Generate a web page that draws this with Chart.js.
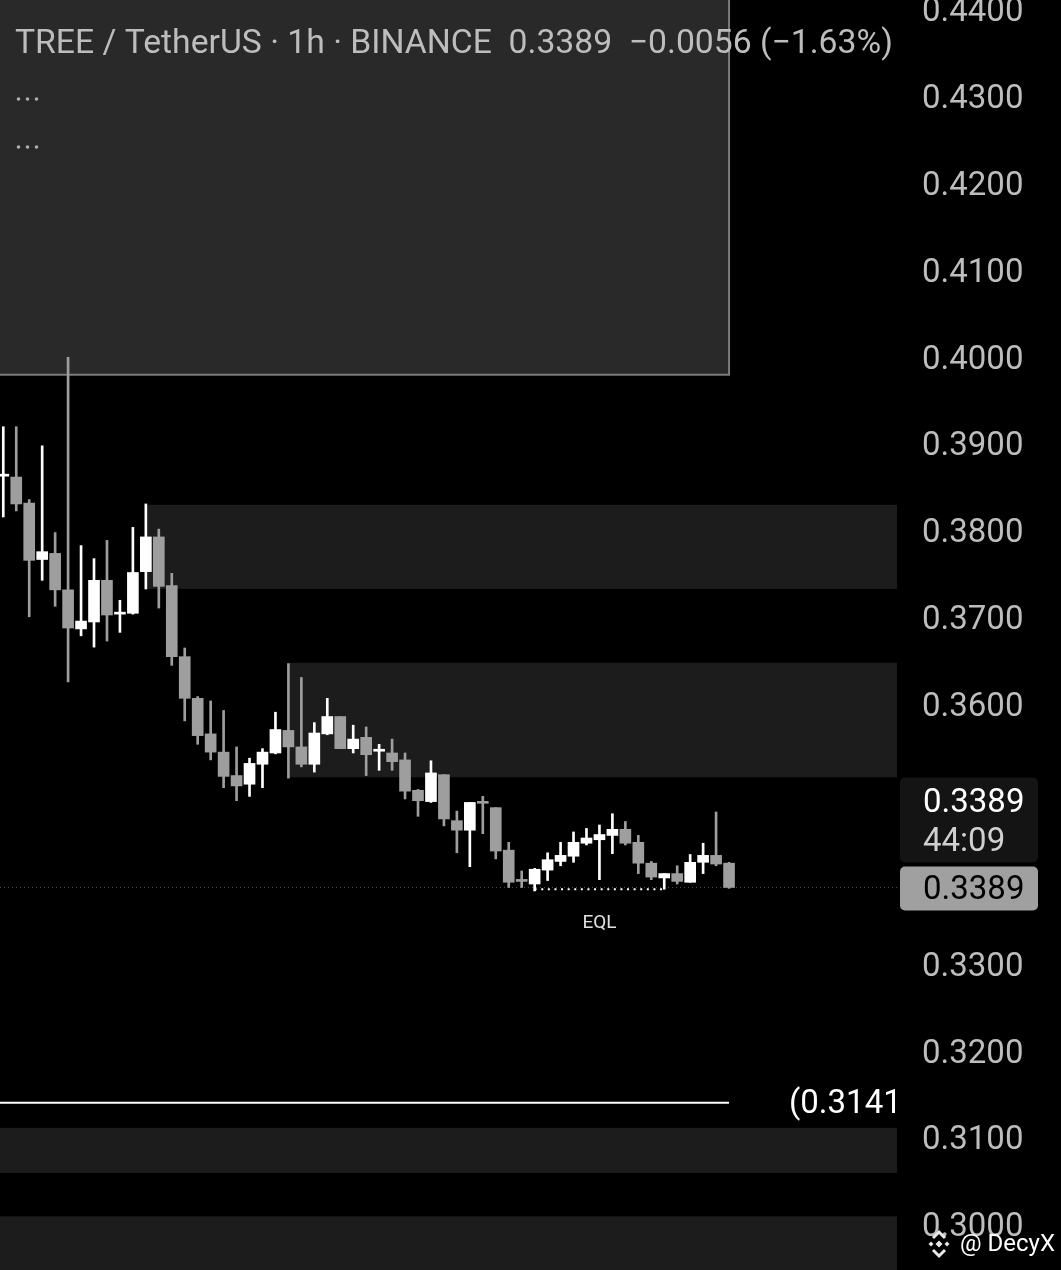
<!DOCTYPE html>
<html lang="en">
<head>
<meta charset="UTF-8">
<title>TREE / TetherUS 1h</title>
<script src="https://cdn.jsdelivr.net/npm/chart.js@4.4.1/dist/chart.umd.min.js"></script>
<style>
  html, body { margin: 0; padding: 0; background: #000; }
  #wrap { width: 1061px; height: 1270px; position: relative; }
</style>
</head>
<body>
<div id="wrap"><canvas id="chart"></canvas></div>
<script>
// candles, 1h
const opens  = [0.3863,0.3862,0.3832,0.3767,0.3774,0.3732,0.3687,0.3695,0.3743,0.3704,
                0.3705,0.3753,0.3793,0.3737,0.3655,0.3607,0.3566,0.3545,0.3518,0.3508,
                0.3531,0.3544,0.3570,0.3551,0.3531,0.3566,0.3586,0.3549,0.3562,0.3546,
                0.3544,0.3536,0.3501,0.3488,0.3519,0.3466,0.3455,0.3487,0.3481,0.3432,
                0.3397,0.3393,0.3409,0.3419,0.3425,0.3440,0.3444,0.3449,0.3456,0.3441,
                0.3417,0.3400,0.3405,0.3395,0.3418,0.3426,0.3417];
const highs  = [0.3920,0.3920,0.3836,0.3898,0.3798,0.4000,0.3783,0.3768,0.3789,0.3720,
                0.3804,0.3831,0.3802,0.3751,0.3665,0.3609,0.3604,0.3593,0.3551,0.3538,
                0.3549,0.3591,0.3647,0.3631,0.3579,0.3607,0.3586,0.3576,0.3574,0.3554,
                0.3560,0.3544,0.3502,0.3535,0.3519,0.3477,0.3487,0.3494,0.3481,0.3441,
                0.3408,0.3411,0.3429,0.3441,0.3453,0.3457,0.3461,0.3474,0.3465,0.3449,
                0.3419,0.3405,0.3414,0.3427,0.3440,0.3476,0.3418];
const lows   = [0.3816,0.3823,0.3701,0.3743,0.3713,0.3626,0.3679,0.3666,0.3673,0.3683,
                0.3704,0.3733,0.3711,0.3645,0.3581,0.3554,0.3536,0.3504,0.3489,0.3494,
                0.3504,0.3543,0.3515,0.3528,0.3522,0.3565,0.3549,0.3544,0.3518,0.3524,
                0.3524,0.3491,0.3471,0.3487,0.3460,0.3429,0.3413,0.3451,0.3422,0.3389,
                0.3389,0.3385,0.3397,0.3414,0.3418,0.3438,0.3398,0.3428,0.3438,0.3405,
                0.3398,0.3387,0.3393,0.3395,0.3405,0.3414,0.3388];
const closes = [0.3864,0.3831,0.3766,0.3776,0.3732,0.3688,0.3696,0.3743,0.3703,0.3705,
                0.3752,0.3793,0.3736,0.3655,0.3607,0.3564,0.3545,0.3517,0.3506,0.3532,
                0.3545,0.3571,0.3551,0.3531,0.3567,0.3586,0.3549,0.3560,0.3542,0.3547,
                0.3534,0.3500,0.3489,0.3521,0.3468,0.3455,0.3487,0.3486,0.3431,0.3395,
                0.3396,0.3410,0.3421,0.3426,0.3441,0.3446,0.3450,0.3456,0.3440,0.3417,
                0.3401,0.3405,0.3396,0.3418,0.3426,0.3416,0.3389];

// price axis labels that are visible
const yTicks = [0.44,0.43,0.42,0.41,0.40,0.39,0.38,0.37,0.36,0.33,0.32,0.31,0.30];

// drawings on the chart
const lastPrice = 0.3389;
const countdown = '44:09';
const rangeBoxBottom = 0.3980;  // grey box at the top
const rangeBoxEnd = 56;         // candle index where it stops
const zoneStart  = [11, 22, -1, -1];
const zoneTop    = [0.3830, 0.3648, 0.3112, 0.3010];
const zoneBottom = [0.3733, 0.3516, 0.3060, 0.2900];
const levelLine = 0.3141;
const eqlLevel = 0.3387, eqlFrom = 41, eqlTo = 51;

const UP = '#ffffff', DOWN = '#9e9e9e';
const candleColors = closes.map((c, i) => c >= opens[i] ? UP : DOWN);
const idx = closes.map((c, i) => i);

const overlay = {
  id: 'overlay',
  beforeDatasetsDraw(chart) {
    const {ctx, chartArea: a, scales: {x, y}} = chart;
    ctx.save();
    // zones
    ctx.fillStyle = '#1c1c1c';
    zoneTop.forEach((t, i) => {
      const left = zoneStart[i] < 0 ? a.left : x.getPixelForValue(zoneStart[i]);
      const top = y.getPixelForValue(t), bot = y.getPixelForValue(zoneBottom[i]);
      ctx.fillRect(left, top, a.right - left, bot - top);
    });
    // range box top-left
    const rbR = x.getPixelForValue(rangeBoxEnd), rbB = y.getPixelForValue(rangeBoxBottom);
    ctx.fillStyle = '#292929';
    ctx.fillRect(a.left, a.top, rbR - a.left, rbB - a.top);
    ctx.strokeStyle = '#7a7a7a';
    ctx.lineWidth = 2;
    ctx.beginPath();
    ctx.moveTo(a.left, rbB); ctx.lineTo(rbR, rbB); ctx.lineTo(rbR, a.top);
    ctx.stroke();
    // last price dotted line
    const lp = Math.round(y.getPixelForValue(lastPrice)) + 0.5;
    ctx.strokeStyle = '#4a4a4a';
    ctx.lineWidth = 1;
    ctx.setLineDash([1, 3]);
    ctx.beginPath(); ctx.moveTo(a.left, lp); ctx.lineTo(a.right, lp); ctx.stroke();
    ctx.setLineDash([]);
    // level line
    const ll = y.getPixelForValue(levelLine);
    ctx.strokeStyle = '#ffffff';
    ctx.lineWidth = 2;
    ctx.beginPath(); ctx.moveTo(a.left, ll); ctx.lineTo(rbR, ll); ctx.stroke();
    ctx.restore();
  },
  afterDatasetsDraw(chart) {
    const {ctx, chartArea: a, scales: {x, y}} = chart;
    ctx.save();
    // EQL
    const ey = y.getPixelForValue(eqlLevel);
    const x0 = x.getPixelForValue(eqlFrom), x1 = x.getPixelForValue(eqlTo);
    ctx.strokeStyle = '#ffffff';
    ctx.lineWidth = 2;
    ctx.setLineDash([2, 4.6]);
    ctx.beginPath(); ctx.moveTo(x0, ey); ctx.lineTo(x1, ey); ctx.stroke();
    ctx.setLineDash([]);
    ctx.fillStyle = '#e0e0e0';
    ctx.font = '19px Roboto';
    ctx.textAlign = 'center';
    ctx.textBaseline = 'middle';
    ctx.fillText('EQL', (x0 + x1) / 2, ey + 34);
    // level label, clipped at the axis
    ctx.save();
    ctx.beginPath(); ctx.rect(a.left, a.top, a.right - a.left + 2, a.bottom - a.top); ctx.clip();
    ctx.fillStyle = '#ffffff';
    ctx.font = '33px Roboto';
    ctx.textAlign = 'left';
    ctx.fillText('(' + levelLine.toFixed(4) + ')', 789, y.getPixelForValue(levelLine) + 2);
    ctx.restore();
    // legend text
    ctx.textAlign = 'left';
    ctx.fillStyle = '#bdbdbd';
    ctx.font = '33.7px Roboto';
    ctx.fillText('TREE / TetherUS · 1h · BINANCE  ' + lastPrice.toFixed(4) + '  \u22120.0056 (\u22121.63%)', 15, 45);
    ctx.fillStyle = '#b0b0b0';
    [99, 147].forEach(dy => {
      [18.5, 27.5, 36.5].forEach(dx => {
        ctx.beginPath(); ctx.arc(dx, dy, 1.8, 0, Math.PI * 2); ctx.fill();
      });
    });
    ctx.restore();
  },
  afterDraw(chart) {
    const {ctx, scales: {y}} = chart;
    const py = y.getPixelForValue(lastPrice);
    ctx.save();
    // countdown box
    ctx.fillStyle = '#141414';
    ctx.beginPath(); ctx.roundRect(900, py - 110, 138, 85, 5); ctx.fill();
    ctx.fillStyle = '#a0a0a0';
    ctx.beginPath(); ctx.roundRect(900, py - 21, 138, 44, 5); ctx.fill();
    ctx.font = '33px Roboto';
    ctx.textAlign = 'left';
    ctx.textBaseline = 'middle';
    ctx.fillStyle = '#ffffff';
    ctx.fillText(lastPrice.toFixed(4), 923, py - 84);
    ctx.fillStyle = '#d0d0d0';
    ctx.fillText(countdown, 923, py - 45);
    ctx.fillStyle = '#000000';
    ctx.fillText(lastPrice.toFixed(4), 923, py + 3);
    // watermark
    ctx.fillStyle = '#ffffff';
    ctx.font = '24px Roboto';
    ctx.fillText('@ DecyX', 960, 1245);
    ctx.fillStyle = '#e8e8e8';
    const lx = 939, ly = 1244;
    const dia = (cx, cy, r) => { ctx.beginPath(); ctx.moveTo(cx, cy - r); ctx.lineTo(cx + r, cy); ctx.lineTo(cx, cy + r); ctx.lineTo(cx - r, cy); ctx.closePath(); ctx.fill(); };
    dia(lx, ly, 3.5);
    dia(lx - 8, ly, 2.5);
    dia(lx + 8, ly, 2.5);
    ctx.strokeStyle = '#e8e8e8';
    ctx.lineWidth = 3;
    ctx.beginPath(); ctx.moveTo(lx - 6, ly - 6); ctx.lineTo(lx, ly - 12); ctx.lineTo(lx + 6, ly - 6); ctx.stroke();
    ctx.beginPath(); ctx.moveTo(lx - 6, ly + 6); ctx.lineTo(lx, ly + 12); ctx.lineTo(lx + 6, ly + 6); ctx.stroke();
    ctx.restore();
  }
};

new Chart(document.getElementById('chart'), {
  type: 'bar',
  data: {
    datasets: [
      {
        label: 'body',
        data: idx.map(i => ({x: i, y: [opens[i], closes[i]]})),
        backgroundColor: candleColors,
        barThickness: 11,
        minBarLength: 2,
        grouped: false,
        borderWidth: 0
      },
      {
        label: 'wick',
        data: idx.map(i => ({x: i, y: [lows[i], highs[i]]})),
        backgroundColor: candleColors,
        barThickness: 2,
        grouped: false,
        borderWidth: 0
      }
    ]
  },
  options: {
    responsive: true,
    maintainAspectRatio: false,
    animation: false,
    layout: { padding: 0 },
    plugins: { legend: { display: false }, tooltip: { enabled: false } },
    scales: {
      x: {
        type: 'linear',
        offset: false,
        min: -0.254,
        max: 68.96,
        display: false
      },
      y: {
        position: 'right',
        min: 0.43 - (1270 - 97) / 8677,
        max: 0.43 + 97 / 8677,
        grid: { display: false, drawTicks: false },
        border: { display: false },
        afterBuildTicks: s => { s.ticks = yTicks.map(v => ({value: v})); },
        afterFit: s => { s.width = 164; s.paddingTop = 0; s.paddingBottom = 0; },
        ticks: {
          color: '#bdbdbd',
          padding: 25,
          labelOffset: 3,
          font: { family: 'Roboto', size: 33 },
          autoSkip: false,
          callback: v => v.toFixed(4)
        }
      }
    }
  },
  plugins: [overlay]
});
</script>
</body>
</html>
